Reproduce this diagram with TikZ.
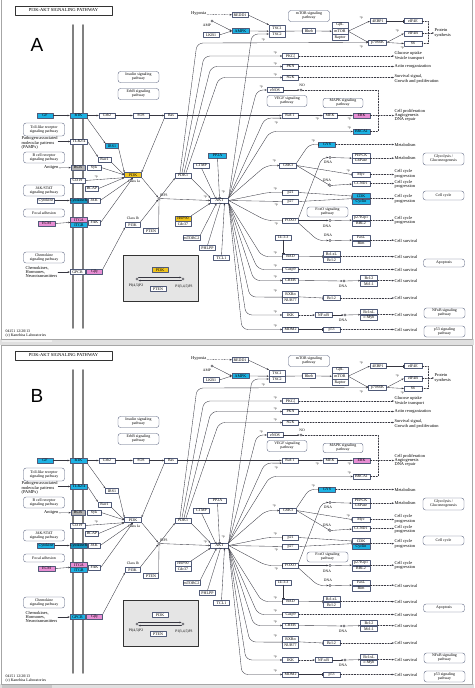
\documentclass[tikz,border=0pt]{standalone}
\usepackage{fontspec}
\setmainfont{Liberation Serif}
\setsansfont{Liberation Sans}
\usetikzlibrary{arrows.meta}
\definecolor{kcyan}{RGB}{28,178,228}
\definecolor{kteal}{RGB}{22,150,192}
\definecolor{kpink}{RGB}{232,142,212}
\definecolor{kyel}{RGB}{240,196,30}
\definecolor{kline}{RGB}{55,55,65}
\definecolor{kedge}{RGB}{80,90,120}

\begin{document}
\begin{tikzpicture}[x=1pt,y=-1pt,line cap=round,line join=round,
  gene/.style={draw=kedge,line width=0.32pt,fill=#1,minimum width=16pt,minimum height=5pt,inner sep=0pt,font=\fontsize{4}{4}\selectfont},
  gene/.default=white,
  pbox/.style={draw=kedge,line width=0.35pt,rounded corners=2.5pt,minimum width=41pt,minimum height=11pt,inner sep=0pt,align=center,font=\fontsize{3.9}{4.1}\selectfont},
  lbl/.style={inner sep=0.4pt,align=left,font=\fontsize{4.4}{4.3}\selectfont},
  sml/.style={inner sep=0.3pt,font=\fontsize{3.7}{3.7}\selectfont},
  plab/.style={inner sep=0pt,font=\fontsize{3.1}{3.1}\selectfont},
  cpd/.style={circle,draw=kline,line width=0.35pt,fill=white,minimum size=2.4pt,inner sep=0pt},
  act/.style={draw=kline,line width=0.35pt,-{Stealth[length=2.2pt,width=1.7pt]}},
  inh/.style={draw=kline,line width=0.35pt,-{Bar[width=3pt]}},
  ind/.style={act,dash pattern=on 1.6pt off 1.2pt},
  dsh/.style={draw=kline,line width=0.35pt,dash pattern=on 1.6pt off 1.2pt}]
\useasboundingbox (0,0) rectangle (474,688);
% window frames of the two screenshots
\fill[black!12] (0,339) rectangle (474,345);
\fill[black!6] (2,339.5) rectangle (52,342);
\fill[black!12] (0,684) rectangle (474,688);
\fill[black!22] (2,684.5) rectangle (52,688);
\draw[black!35,line width=0.6pt] (1.5,-1) rectangle (472.5,339);
\draw[black!35,line width=0.6pt] (1.5,345) rectangle (472.5,684);

\foreach \p/\dy/\ly/\ctlr/\cirs/\ccyt/\cgpcr/\cpik/\chsp/\cpp/\cbrca/\ccdk in
  {A/0/45/white/kcyan/white/white/kyel/kyel/kcyan/kcyan/kcyan,
   B/345/51/kcyan/white/kcyan/kcyan/white/white/white/white/white} {
\begin{scope}[shift={(0,\dy)}]
  \node[draw=black!80,line width=0.7pt,minimum width=97pt,minimum height=9pt,inner sep=0pt,
    font=\fontsize{4.6}{4.6}\selectfont] (\p-title) at (63.5,10.5) {PI3K-AKT SIGNALING PATHWAY};
  \node[inner sep=0pt,font=\fontsize{19}{19}\sffamily] (\p-name) at (37,\ly) {\p};
  % membrane
  \draw[black!50,line width=1.7pt] (73,25) -- (73,328);
  \draw[black!50,line width=1.7pt] (83,25) -- (83,328);

  % pathway maps
  \node[pbox] (\p-ins) at (138.5,77) {Insulin signaling\\pathway};
  \node[pbox] (\p-erbb) at (138.5,94) {ErbB signaling\\pathway};
  \node[pbox] (\p-mtorp) at (309,16) {mTOR signaling\\pathway};
  \node[pbox,minimum height=13pt] (\p-tlrp) at (44,129.5) {Toll-like receptor\\signaling pathway};
  \node[pbox] (\p-bcrp) at (44,157.5) {B cell receptor\\signaling pathway};
  \node[pbox] (\p-jakp) at (44,190.5) {JAK/STAT\\signaling pathway};
  \node[pbox,minimum height=8pt] (\p-focal) at (44,213) {Focal adhesion};
  \node[pbox] (\p-chemp) at (44,257.5) {Chemokine\\signaling pathway};
  \node[pbox,minimum width=40pt] (\p-vegf) at (287,101) {VEGF signaling\\pathway};
  \node[pbox,minimum width=40pt,minimum height=9.5pt] (\p-mapk) at (343,103) {MAPK signaling\\pathway};
  \node[pbox,minimum height=10pt] (\p-foxop) at (327.5,212) {FoxO signaling\\pathway};
  \node[pbox,minimum height=12pt] (\p-glyc) at (443.5,159) {Glycolysis /\\Gluconeogenesis};
  \node[pbox,minimum height=9pt] (\p-ccyc) at (443.5,195.5) {Cell cycle};
  \node[pbox,minimum height=8pt] (\p-apop) at (444,263) {Apoptosis};
  \node[pbox,minimum height=10pt] (\p-nfkbp) at (444.5,313) {NFκB signaling\\pathway};
  \node[pbox] (\p-p53p) at (444.5,331.5) {p53 signaling\\pathway};

  % receptors and upstream
  \node[gene=kcyan] (\p-gf) at (45,115.5) {GF};
  \node[gene=kcyan,minimum width=17pt] (\p-rtk) at (78.5,115.5) {RTK};
  \node[gene] (\p-grb) at (107,115.5) {Grb2};
  \node[gene] (\p-sos) at (141,115.5) {SOS};
  \node[gene,minimum width=13pt] (\p-ras) at (171,115.5) {Ras};
  \node[lbl,anchor=west] (\p-pamp) at (21,143) {Pathogen-associated\\molecular patterns\\(PAMPs)};
  \node[gene=\ctlr,minimum width=17pt] (\p-tlr) at (79,141.5) {TLR2/4};
  \node[gene=\cirs,minimum width=13pt] (\p-irs) at (112,146) {IRS1};
  \node[gene,minimum width=13pt] (\p-rac) at (104.5,159.5) {Rac1};
  \node[lbl,anchor=east] (\p-ant) at (59,168) {Antigen};
  \node[gene=black!30,minimum width=14pt] (\p-bcr) at (78,167.5) {BCR};
  \node[gene,minimum width=14pt] (\p-syk) at (94,167.5) {Syk};
  \node[gene,minimum width=15pt] (\p-cd19) at (77.5,180.5) {CD19};
  \node[gene,minimum width=13pt] (\p-bcap) at (92,188.5) {BCAP};
  \node[gene=\cpik,minimum width=17pt] (\p-pik) at (133,175) {PI3K};
  \node[sml] (\p-cla) at (134,181.5) {Class Ia};
  \node[gene=\ccyt,minimum width=17pt] (\p-cyt) at (46,200.5) {Cytokine};
  \node[gene=kteal,minimum width=17pt] (\p-cytr) at (78.5,200.5) {CytokineR};
  \node[gene,minimum width=12pt] (\p-jak) at (94,200.5) {JAK};
  \node[gene=kpink,minimum width=17pt] (\p-ecm) at (46.5,223.5) {ECM};
  \node[gene=kpink,minimum width=17pt] (\p-itga) at (79,219.7) {ITGA};
  \node[gene=kcyan,minimum width=17pt] (\p-itgb) at (79,225.1) {ITGB};
  \node[gene,minimum width=12pt] (\p-fak) at (94.5,222.5) {FAK};
  \node[lbl,anchor=west] (\p-chem) at (25,272) {Chemokines,\\Hormones,\\Neurotransmitters};
  \node[gene=\cgpcr,minimum width=15pt] (\p-gpcr) at (77.5,272) {GPCR};
  \node[gene=kpink] (\p-gbg) at (94.5,272) {Gβγ};
  \node[gene,minimum width=15pt] (\p-pikb) at (132.5,225) {PI3K};
  \node[sml] (\p-clb) at (133,218.5) {Class Ib};
  \node[gene,minimum width=15pt] (\p-pten) at (151,231) {PTEN};
  \node[cpd] (\p-pip) at (159,198.5) {};
  \node[sml] (\p-pipt) at (164,195) {PIP3};
  \node[gene] (\p-pdk) at (183,175.5) {PDK1};
  \node[gene] (\p-ctmp) at (201.5,165.5) {CTMP};
  \node[gene=\cpp,minimum width=18pt] (\p-pp2a) at (217.5,155.5) {PP2A};
  \node[gene,minimum width=18pt] (\p-akt) at (219.5,200.5) {AKT};
  \node[gene=\chsp] (\p-hsp) at (183,218.5) {HSP90};
  \node[gene] (\p-cdc) at (183,224) {Cdc37};
  \node[gene,minimum width=17pt] (\p-mtorc) at (191.5,238) {mTORC2};
  \node[gene] (\p-phl) at (207.5,248) {PHLPP};
  \node[gene] (\p-tcl) at (221.5,258) {TCL1};

  % legend box
  \draw[line width=0.9pt,draw=black!80,fill=black!10] (123,255) rectangle (198,301);
  \node[gene=\cpik] (\p-lpik) at (160,270) {PI3K};
  \node[gene] (\p-lpten) at (158,289) {PTEN};
  \node[cpd] (\p-lpa) at (137,279) {};
  \node[cpd] (\p-lpb) at (183,279) {};
  \node[sml] (\p-lpat) at (136,285.5) {PI(4,5)P2};
  \node[sml] (\p-lpbt) at (184,286.5) {PI(3,4,5)P3};
  \draw[act] ([yshift=1.6pt]\p-lpa.east) -- ([yshift=1.6pt]\p-lpb.west);
  \draw[act] ([yshift=-1.6pt]\p-lpb.west) -- ([yshift=-1.6pt]\p-lpa.east);

  % mTOR branch
  \node[lbl,anchor=east] (\p-hyp) at (207,14) {Hypoxia};
  \node[gene] (\p-redd) at (240,15) {REDD1};
  \node[cpd] (\p-amp) at (212,21) {};
  \node[sml] (\p-ampt) at (207,25.5) {AMP};
  \node[gene] (\p-lkb) at (211,35) {LKB1};
  \node[gene=kcyan,minimum width=17pt] (\p-ampk) at (240.5,31) {AMPK};
  \node[gene,minimum height=6pt] (\p-tsca) at (277,28) {TSC1};
  \node[gene,minimum height=6pt] (\p-tscb) at (277,34) {TSC2};
  \node[gene,minimum width=13pt] (\p-rheb) at (309,31) {Rheb};
  \node[gene,minimum height=6.2pt] (\p-gbl) at (340,25) {GβL};
  \node[gene,minimum height=6.2pt] (\p-mtor) at (340,31.2) {mTOR};
  \node[gene,minimum height=6.2pt] (\p-rapt) at (340,37.4) {Raptor};
  \node[gene] (\p-ebp) at (378,21) {4EBP1};
  \node[gene,minimum width=18pt] (\p-eifa) at (413,21) {eIF4E};
  \node[gene,minimum width=18pt] (\p-eifb) at (413,33.5) {eIF4B};
  \node[gene,minimum width=18pt] (\p-s6k) at (377.5,42.5) {p70S6K};
  \node[gene,minimum width=18pt] (\p-s6) at (413,43.5) {S6};
  \node[lbl,anchor=west] (\p-o0) at (434,33) {Protein\\synthesis};

  % AKT targets
  \node[gene] (\p-pkc) at (290.5,56) {PKCζ};
  \node[gene] (\p-pkn) at (290.5,66.5) {PKN};
  \node[gene] (\p-sgk) at (290.5,77.5) {SGK};
  \node[gene] (\p-enos) at (275,90) {eNOS};
  \node[cpd] (\p-no) at (301,90) {};
  \node[sml] (\p-not) at (302,85.5) {NO};
  \node[gene] (\p-raf) at (290,115.5) {Raf-1};
  \node[gene,minimum width=14pt] (\p-mek) at (330,115.5) {MEK};
  \node[gene=kpink,minimum width=17pt] (\p-erk) at (361.5,115.5) {ERK};
  \node[gene=\cbrca,minimum width=17pt] (\p-brca) at (361.5,131.5) {BRCA1};
  \node[gene=kcyan,minimum width=17pt] (\p-gys) at (327,144.5) {GYS};
  \node[gene,minimum width=17pt] (\p-gsk) at (288,165.5) {GSK3};
  \node[gene,minimum width=18pt] (\p-pepck) at (361,155.5) {PEPCK};
  \node[gene,minimum width=18pt] (\p-g6p) at (361,160.5) {G6Pase};
  \node[cpd] (\p-dna1) at (330,157.5) {};
  \node[sml] (\p-dnt1) at (328,162) {DNA};
  \node[gene,minimum width=18pt] (\p-myc) at (361,174.5) {Myc};
  \node[gene,minimum width=18pt] (\p-ccnd) at (361,183.5) {CCND1};
  \node[cpd] (\p-dna2) at (330,185.5) {};
  \node[sml] (\p-dnt2) at (327,180.5) {DNA};
  \node[gene=\ccdk,minimum width=18pt] (\p-cdk) at (361,196) {CDK};
  \node[gene=kcyan,minimum width=18pt] (\p-cyc) at (361,201.5) {Cyclin};
  \node[gene] (\p-p21) at (290.5,192.5) {p21};
  \node[gene] (\p-p27) at (290.5,201.5) {p27};
  \node[gene] (\p-foxo) at (290.5,220.5) {FOXO};
  \node[gene,minimum width=18pt] (\p-kip) at (361,217.5) {p27Kip1};
  \node[gene,minimum width=18pt] (\p-rbl) at (361,223.5) {RBL2};
  \node[cpd] (\p-dna3) at (330,220.5) {};
  \node[sml] (\p-dnt3) at (327,226) {DNA};
  \node[gene,minimum width=18pt] (\p-fasl) at (361,237.5) {FasL};
  \node[gene,minimum width=18pt] (\p-bim) at (361,243.5) {Bim};
  \node[cpd] (\p-dna4) at (330,240.5) {};
  \node[sml] (\p-dnt4) at (328,235.5) {DNA};
  \node[gene] (\p-f1433) at (283,237.5) {14-3-3};
  \node[gene] (\p-bad) at (290.5,256.5) {BAD};
  \node[gene,minimum width=17pt] (\p-bclxl) at (331.5,254) {Bcl-xL};
  \node[gene,minimum width=17pt] (\p-bcl2) at (331.5,260) {Bcl-2};
  \node[gene] (\p-casp) at (290.5,269.5) {Casp9};
  \node[gene] (\p-creb) at (290.5,280.5) {CREB};
  \node[cpd] (\p-dna5) at (344,281) {};
  \node[sml] (\p-dnt5) at (343,286.5) {DNA};
  \node[gene,minimum width=17pt] (\p-bcl2b) at (369,278) {Bcl-2};
  \node[gene,minimum width=17pt] (\p-mcl) at (369,284) {Mcl-1};
  \node[gene,minimum height=6pt] (\p-rxr) at (290.5,294) {RXRα};
  \node[gene,minimum height=6pt] (\p-nur) at (290.5,300) {NUR77};
  \node[gene,minimum width=17pt] (\p-bcl2c) at (331.5,298) {Bcl-2};
  \node[gene] (\p-ikk) at (290.5,315) {IKK};
  \node[gene,minimum width=17pt] (\p-nfkb) at (323.5,315) {NF-κB};
  \node[cpd] (\p-dna6) at (345,315) {};
  \node[sml] (\p-dnt6) at (343,320.5) {DNA};
  \node[gene,minimum width=17pt] (\p-bclxlb) at (369,312) {Bcl-xL};
  \node[gene,minimum width=17pt] (\p-cmyb) at (369,318) {c-Myb};
  \node[gene] (\p-mdm) at (290.5,329.5) {MDM2};
  \node[gene,minimum width=17pt] (\p-p53) at (331.5,329.5) {p53};

  % outcomes
  \node[lbl,anchor=west] (\p-o1) at (394,56) {Glucose uptake\\Vesicle transport};
  \node[lbl,anchor=west] (\p-o2) at (394,66.5) {Actin reorganization};
  \node[lbl,anchor=west] (\p-o3) at (394,79) {Survival signal,\\Growth and proliferation};
  \node[lbl,anchor=west] (\p-o4) at (394,115.5) {Cell proliferation\\Angiogenesis\\DNA repair};
  \node[lbl,anchor=west] (\p-o5) at (394,144.5) {Metabolism};
  \node[lbl,anchor=west] (\p-o6) at (394,158) {Metabolism};
  \node[lbl,anchor=west] (\p-o7) at (394,174) {Cell cycle\\progression};
  \node[lbl,anchor=west] (\p-o8) at (394,184.5) {Cell cycle\\progression};
  \node[lbl,anchor=west] (\p-o9) at (394,199) {Cell cycle\\progression};
  \node[lbl,anchor=west] (\p-o10) at (394,220.5) {Cell cycle\\progression};
  \foreach \oc/\oy in {o11/240.5,o12/257,o13/269.5,o14/281,o15/298,o16/315,o17/329.5}
    \node[lbl,anchor=west] (\p-\oc) at (394,\oy) {Cell survival};
  \node[lbl,anchor=west,font=\fontsize{3.9}{4}\selectfont] (\p-foot) at (5,334) {04151 12/20/13\\(c) Kanehisa Laboratories};

  % +p marks
  \foreach \q/\px/\py in {1/263/40,2/275/53,3/275/63.5,4/275/74.5,5/261/87,6/276/123,7/317/119,
      8/349/119,9/349/128,10/313/141,11/274/161,12/275/189,13/276/205,14/276/224,15/275/253,
      16/275/266,17/275/277,18/275/291,19/275/312,20/275/326,21/96/177,22/205/197,23/223/192,
      24/361/18,25/361/47,26/397/31,27/402/48,28/348/171}
    \node[plab] (\p-pl\q) at (\px,\py) {+p};

  % upstream connectors
  \draw[act] (\p-gf) -- (\p-rtk);
  \draw[act] (\p-rtk) -- (\p-grb);
  \draw[act] (\p-grb) -- (\p-sos);
  \draw[act] (\p-sos) -- (\p-ras);
  \draw[act] (\p-ras) -- (\p-raf);
  \draw[act] (\p-ras.south west) -- (\p-pik.north east);
  \draw[act] (\p-rtk.south east) -- (\p-irs.north west);
  \draw[act] (\p-irs.south east) -- (\p-pik.north west);
  \draw[act] (\p-pamp.east |- \p-tlr.west) -- (\p-tlr.west);
  \draw[act] (\p-tlr.east) -- (\p-rac.north west);
  \draw[act] (\p-rac.south east) -- (\p-pik.west);
  \draw[act] (\p-ant) -- (\p-bcr);
  \draw[act] (\p-syk.east) -- (\p-pik.west);
  \draw[act] (\p-cd19.east) -- (\p-pik.south west);
  \draw[act] (\p-bcap.east) -- (\p-pik.south west);
  \draw[act] (\p-cyt) -- (\p-cytr);
  \draw[act] (\p-jak.east) -- (\p-pik.south);
  \draw[act] (\p-ecm.east) -- (\p-itga.south west);
  \draw[act] (\p-fak.east) -- (\p-pik.south);
  \draw[act] (\p-chem.east |- \p-gpcr.west) -- (\p-gpcr.west);
  \draw[act] (\p-gbg.north east) -- (\p-pikb.south west);
  \draw[act] (\p-pik.south east) -- (\p-pip);
  \draw[act] (\p-pikb.north east) -- (\p-pip);
  \draw[inh] (\p-pten.north east) -- (\p-pip.south);
  \draw[act] (\p-pip) -- (\p-pdk.south west);
  \draw[act] (\p-pip) -- (\p-akt.west);
  \draw[act] (\p-pdk.south east) -- (\p-akt.north west);
  \draw[inh] (\p-ctmp.south) -- ([xshift=-4pt]\p-akt.north);
  \draw[inh] (\p-pp2a.south) -- (\p-akt.north);
  \draw[act] (\p-hsp.north east) -- (\p-akt.south west);
  \draw[act] (\p-mtorc.north east) -- ([xshift=-3pt]\p-akt.south);
  \draw[inh] (\p-phl.north) -- ([xshift=1pt]\p-akt.south);
  \draw[act] (\p-tcl.north) -- ([xshift=5pt]\p-akt.south);

  % mTOR connectors
  \draw[ind] (\p-hyp) -- (\p-redd);
  \draw[act] (\p-amp) -- (\p-ampk.west);
  \draw[act] (\p-lkb.east) -- (\p-ampk.west);
  \draw[act] (\p-ampk.east) -- (\p-tsca.south west);
  \draw[act] (\p-redd.east) -- (\p-tsca.north west);
  \draw[inh] (\p-tsca.south east) -- (\p-rheb.west);
  \draw[act] (\p-rheb.east) -- (\p-mtor.west);
  \draw[act] (\p-mtor.east) -- (\p-ebp.west);
  \draw[act] (\p-mtor.east) -- (\p-s6k.west);
  \draw[inh] (\p-ebp) -- (\p-eifa);
  \draw[act] (\p-s6k.east) -- (\p-eifb.west);
  \draw[act] (\p-s6k.east) -- (\p-s6.west);
  \draw[dsh] (\p-eifa.east) -- (428,21) -- (428,43.5) -- (\p-s6.east);
  \draw[dsh] (\p-eifb.east) -- (428,33.5);
  \draw[ind] (428,33) -- (\p-o0.west |- 428,33);

  % PDK1 upward
  \draw[act,rounded corners=6pt] ([xshift=-3pt]\p-pdk.north) -- (197,43) -- (\p-s6k.west);
  \draw[act,rounded corners=6pt] ([xshift=-1pt]\p-pdk.north) -- (204,56) -- (\p-pkc.west);
  \draw[act,rounded corners=6pt] ([xshift=1pt]\p-pdk.north) -- (211,66.5) -- (\p-pkn.west);
  \draw[act,rounded corners=6pt] ([xshift=3pt]\p-pdk.north) -- (219,77.5) -- (\p-sgk.west);

  % AKT outward
  \draw[act,rounded corners=6pt] (\p-akt.north east) -- (252,34) -- (\p-tscb.west);
  \draw[act,rounded corners=6pt] (\p-akt.north east) -- (257,90) -- (\p-enos.west);
  \draw[act,rounded corners=6pt] (\p-akt.north east) -- (265,118) -- (\p-raf.south west);
  \draw[act,rounded corners=6pt] (\p-akt.north east) -- (270,131.5) -- (\p-brca.west);
  \draw[act,rounded corners=6pt] (\p-akt.north east) -- (266,165.5) -- (\p-gsk.west);
  \draw[inh,rounded corners=4pt] (\p-akt.east) -- (268,192.5) -- (\p-p21.west);
  \draw[inh] (\p-akt.east) -- (\p-p27.west);
  \draw[inh,rounded corners=6pt] (\p-akt.east) -- (266,220.5) -- (\p-foxo.west);
  \draw[inh,rounded corners=6pt] (\p-akt.south east) -- (262,256.5) -- (\p-bad.west);
  \draw[inh,rounded corners=6pt] (\p-akt.south east) -- (258,269.5) -- (\p-casp.west);
  \draw[act,rounded corners=6pt] (\p-akt.south east) -- (254,280.5) -- (\p-creb.west);
  \draw[inh,rounded corners=6pt] (\p-akt.south east) -- (250,297) -- (\p-rxr.south west);
  \draw[act,rounded corners=6pt] (\p-akt.south east) -- (246,315) -- (\p-ikk.west);
  \draw[act,rounded corners=6pt] (\p-akt.south east) -- (242,329.5) -- (\p-mdm.west);

  % downstream
  \draw[act] (\p-raf) -- (\p-mek);
  \draw[act] (\p-mek) -- (\p-erk);
  \draw[act] (\p-enos) -- (\p-no);
  \draw[dsh] (\p-no.east) -- (378,90) -- (378,131.5) -- (\p-brca.east);
  \draw[dsh] (\p-erk.east) -- (378,115.5);
  \draw[ind] (378,115.5) -- (\p-o4.west);
  \draw[inh,rounded corners=5pt] (\p-gsk.north east) -- (309,144.5) -- (\p-gys.west);
  \draw[inh] (\p-gsk.east) -- (\p-myc.west);
  \draw[inh] (\p-gsk.east) -- (\p-dna2);
  \draw[act] (\p-dna2) -- (\p-ccnd);
  \draw[act,rounded corners=5pt] (\p-foxo.north east) -- (322,157.5) -- (\p-dna1);
  \draw[act] (\p-dna1) -- (\p-pepck.south west);
  \draw[act] (\p-foxo.east) -- (\p-dna3);
  \draw[act] (\p-dna3) -- (\p-kip.south west);
  \draw[act,rounded corners=5pt] (\p-foxo.south east) -- (318,240.5) -- (\p-dna4);
  \draw[act] (\p-dna4) -- (\p-fasl.south west);
  \draw[inh] (\p-p21.east) -- (\p-cdk.west);
  \draw[inh] (\p-p27.east) -- (\p-cdk.south west);
  \draw[inh] (\p-f1433.south) -- (\p-f1433.south |- \p-bad.north);
  \draw[inh] (\p-bad.east) -- (\p-bclxl.south west);
  \draw[act] (\p-creb.east) -- (\p-dna5);
  \draw[act] (\p-dna5) -- (\p-bcl2b.south west);
  \draw[inh] (\p-nur.north east) -- (\p-bcl2c.west);
  \draw[ind] (\p-ikk) -- (\p-nfkb);
  \draw[act] (\p-nfkb) -- (\p-dna6);
  \draw[act] (\p-dna6) -- (\p-bclxlb.south west);
  \draw[inh] (\p-mdm) -- (\p-p53);
  \foreach \gn/\oc in {pkc.east/o1,pkn.east/o2,sgk.east/o3,gys.east/o5,pepck.south east/o6,
      myc.east/o7,ccnd.east/o8,cdk.south east/o9,kip.south east/o10,fasl.south east/o11,
      bclxl.south east/o12,casp.east/o13,bcl2b.south east/o14,bcl2c.east/o15,
      bclxlb.south east/o16,p53.east/o17}
    \draw[ind] (\p-\gn) -- (\p-\gn -| \p-\oc.west);
\end{scope}
}
\end{tikzpicture}
\end{document}
